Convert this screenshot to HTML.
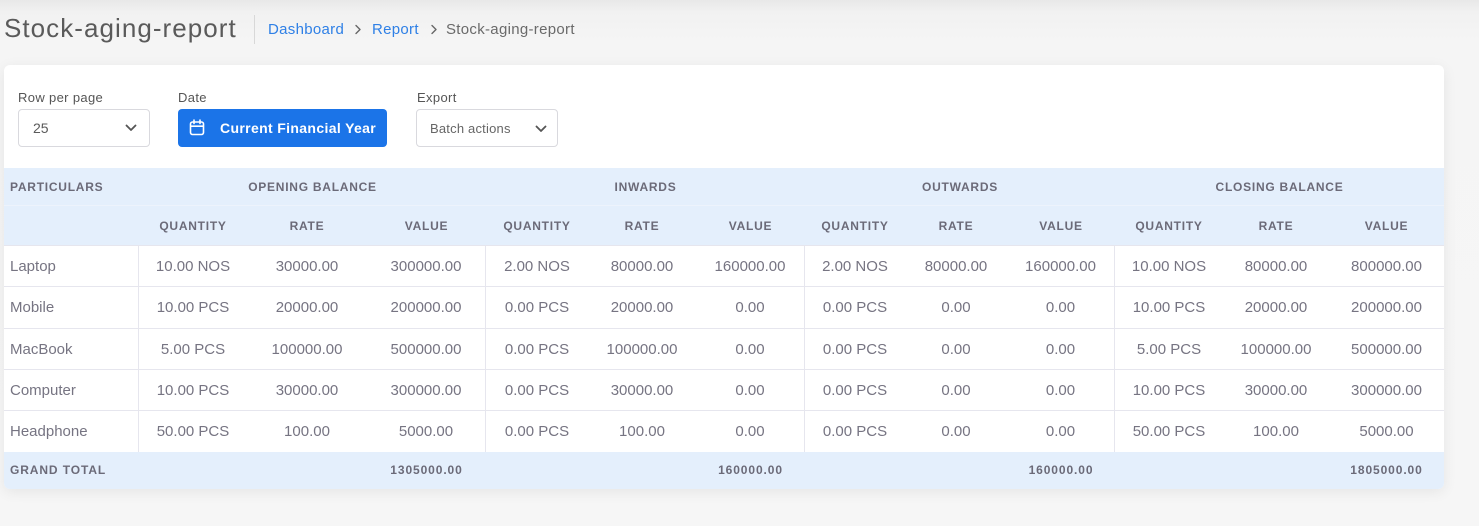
<!DOCTYPE html>
<html>
<head>
<meta charset="utf-8">
<style>
*{box-sizing:border-box;margin:0;padding:0}
html,body{width:1479px;height:526px;overflow:hidden}
body{position:relative;background:linear-gradient(#e8e8e8 0px,#f1f1f1 12px,#f5f5f5 40px,#f6f6f6 100%);font-family:"Liberation Sans",sans-serif;}
.abs{position:absolute;white-space:nowrap}
.title{left:4px;top:15px;font-size:26px;line-height:26px;color:#5a5a5a;letter-spacing:1.05px}
.sep{left:254px;top:15px;width:1px;height:29px;background:#d8d8d8}
.bc{top:22px;font-size:15px;line-height:15px;letter-spacing:0.3px}
.card{left:4px;top:65px;width:1440px;height:424px;background:#fff;border-radius:6px;box-shadow:0 3px 14px rgba(0,0,0,0.07);overflow:hidden}
.lbl{font-size:13px;line-height:13px;color:#555;letter-spacing:0.35px;top:26px}
.sel{top:44px;height:38px;border:1px solid #d9d9de;border-radius:4px;background:#fff}
.btn{top:44px;left:174px;width:209px;height:38px;background:#1b74e8;border-radius:4px}
.row{position:absolute;left:0;width:1440px;display:flex}
.row>div{flex:none;text-align:center;white-space:nowrap}
.hd{background:#e4effc;color:#6b6a78;font-weight:bold;font-size:12px;letter-spacing:0.75px}
.dt{color:#767482;font-size:15px;border-top:1px solid #e6e6ee}
.dt>div.vl{border-right:1px solid #e6e6ee}
.tot{background:#e4effc;color:#6b6a78;font-weight:bold;font-size:12px;letter-spacing:0.9px}
</style>
</head>
<body>
<div class="abs title">Stock-aging-report</div>
<div class="abs sep"></div>
<div class="abs bc" style="left:268px;color:#2f80e6">Dashboard</div>
<svg class="abs" style="left:354px;top:24px" width="8" height="11" viewBox="0 0 8 11"><path d="M2 1.5 L6 5.5 L2 9.5" fill="none" stroke="#666" stroke-width="1.4" stroke-linecap="round" stroke-linejoin="round"/></svg>
<div class="abs bc" style="left:372px;color:#2f80e6">Report</div>
<svg class="abs" style="left:430px;top:24px" width="8" height="11" viewBox="0 0 8 11"><path d="M2 1.5 L6 5.5 L2 9.5" fill="none" stroke="#666" stroke-width="1.4" stroke-linecap="round" stroke-linejoin="round"/></svg>
<div class="abs bc" style="left:446px;color:#6a6a6a">Stock-aging-report</div>

<div class="abs card">
  <div class="abs lbl" style="left:14px">Row per page</div>
  <div class="abs lbl" style="left:174px">Date</div>
  <div class="abs lbl" style="left:413px">Export</div>

  <div class="abs sel" style="left:14px;width:132px">
    <div class="abs" style="left:14px;top:11px;font-size:14px;line-height:14px;color:#5a5a5a">25</div>
    <svg class="abs" style="left:106px;top:14px" width="12" height="8" viewBox="0 0 12 8"><path d="M1.5 1.5 L6 6 L10.5 1.5" fill="none" stroke="#555" stroke-width="1.8" stroke-linecap="round" stroke-linejoin="round"/></svg>
  </div>

  <div class="abs btn">
    <svg class="abs" style="left:11px;top:10px" width="16" height="17" viewBox="0 0 16 17"><rect x="1.5" y="3" width="13" height="12.5" rx="2" fill="none" stroke="#fff" stroke-width="1.6"/><line x1="1.5" y1="7.2" x2="14.5" y2="7.2" stroke="#fff" stroke-width="1.6"/><line x1="5" y1="1" x2="5" y2="4.5" stroke="#fff" stroke-width="1.6" stroke-linecap="round"/><line x1="11" y1="1" x2="11" y2="4.5" stroke="#fff" stroke-width="1.6" stroke-linecap="round"/></svg>
    <div class="abs" style="left:42px;top:12px;font-size:14px;line-height:14px;color:#fff;font-weight:bold;letter-spacing:0.35px">Current Financial Year</div>
  </div>

  <div class="abs sel" style="left:412px;width:142px">
    <div class="abs" style="left:13px;top:12px;font-size:13px;line-height:13px;color:#666;letter-spacing:0.2px">Batch actions</div>
    <svg class="abs" style="left:118px;top:15px" width="12" height="8" viewBox="0 0 12 8"><path d="M1.5 1.5 L6 6 L10.5 1.5" fill="none" stroke="#555" stroke-width="1.8" stroke-linecap="round" stroke-linejoin="round"/></svg>
  </div>

  <!-- header row 1 -->
  <div class="row hd" style="top:103px;height:38px;line-height:38px;border-bottom:1px solid #edf3fc">
    <div style="width:135px;text-align:left;padding-left:6px">PARTICULARS</div>
    <div style="width:347px">OPENING BALANCE</div>
    <div style="width:319px">INWARDS</div>
    <div style="width:310px">OUTWARDS</div>
    <div style="width:329px">CLOSING BALANCE</div>
  </div>
  <!-- header row 2 -->
  <div class="row hd" style="top:141px;height:39px;line-height:40px">
    <div style="width:135px"></div>
    <div style="width:108px">QUANTITY</div><div style="width:120px">RATE</div><div style="width:119px">VALUE</div>
    <div style="width:102px">QUANTITY</div><div style="width:108px">RATE</div><div style="width:109px">VALUE</div>
    <div style="width:100px">QUANTITY</div><div style="width:102px">RATE</div><div style="width:108px">VALUE</div>
    <div style="width:108px">QUANTITY</div><div style="width:106px">RATE</div><div style="width:115px">VALUE</div>
  </div>

  <div class="row dt" style="top:180px;height:41px;line-height:41px">
    <div class="vl" style="width:135px;text-align:left;padding-left:6px">Laptop</div>
    <div style="width:108px">10.00 NOS</div><div style="width:120px">30000.00</div><div class="vl" style="width:119px">300000.00</div>
    <div style="width:102px">2.00 NOS</div><div style="width:108px">80000.00</div><div class="vl" style="width:109px">160000.00</div>
    <div style="width:100px">2.00 NOS</div><div style="width:102px">80000.00</div><div class="vl" style="width:108px">160000.00</div>
    <div style="width:108px">10.00 NOS</div><div style="width:106px">80000.00</div><div style="width:115px">800000.00</div>
  </div>
  <div class="row dt" style="top:221px;height:42px;line-height:41px">
    <div class="vl" style="width:135px;text-align:left;padding-left:6px">Mobile</div>
    <div style="width:108px">10.00 PCS</div><div style="width:120px">20000.00</div><div class="vl" style="width:119px">200000.00</div>
    <div style="width:102px">0.00 PCS</div><div style="width:108px">20000.00</div><div class="vl" style="width:109px">0.00</div>
    <div style="width:100px">0.00 PCS</div><div style="width:102px">0.00</div><div class="vl" style="width:108px">0.00</div>
    <div style="width:108px">10.00 PCS</div><div style="width:106px">20000.00</div><div style="width:115px">200000.00</div>
  </div>
  <div class="row dt" style="top:263px;height:41px;line-height:41px">
    <div class="vl" style="width:135px;text-align:left;padding-left:6px">MacBook</div>
    <div style="width:108px">5.00 PCS</div><div style="width:120px">100000.00</div><div class="vl" style="width:119px">500000.00</div>
    <div style="width:102px">0.00 PCS</div><div style="width:108px">100000.00</div><div class="vl" style="width:109px">0.00</div>
    <div style="width:100px">0.00 PCS</div><div style="width:102px">0.00</div><div class="vl" style="width:108px">0.00</div>
    <div style="width:108px">5.00 PCS</div><div style="width:106px">100000.00</div><div style="width:115px">500000.00</div>
  </div>
  <div class="row dt" style="top:304px;height:41px;line-height:41px">
    <div class="vl" style="width:135px;text-align:left;padding-left:6px">Computer</div>
    <div style="width:108px">10.00 PCS</div><div style="width:120px">30000.00</div><div class="vl" style="width:119px">300000.00</div>
    <div style="width:102px">0.00 PCS</div><div style="width:108px">30000.00</div><div class="vl" style="width:109px">0.00</div>
    <div style="width:100px">0.00 PCS</div><div style="width:102px">0.00</div><div class="vl" style="width:108px">0.00</div>
    <div style="width:108px">10.00 PCS</div><div style="width:106px">30000.00</div><div style="width:115px">300000.00</div>
  </div>
  <div class="row dt" style="top:345px;height:42px;line-height:41px">
    <div class="vl" style="width:135px;text-align:left;padding-left:6px">Headphone</div>
    <div style="width:108px">50.00 PCS</div><div style="width:120px">100.00</div><div class="vl" style="width:119px">5000.00</div>
    <div style="width:102px">0.00 PCS</div><div style="width:108px">100.00</div><div class="vl" style="width:109px">0.00</div>
    <div style="width:100px">0.00 PCS</div><div style="width:102px">0.00</div><div class="vl" style="width:108px">0.00</div>
    <div style="width:108px">50.00 PCS</div><div style="width:106px">100.00</div><div style="width:115px">5000.00</div>
  </div>

  <div class="row tot" style="top:387px;height:37px;line-height:37px">
    <div style="width:135px;text-align:left;padding-left:6px">GRAND TOTAL</div>
    <div style="width:108px"></div><div style="width:120px"></div><div style="width:119px">1305000.00</div>
    <div style="width:102px"></div><div style="width:108px"></div><div style="width:109px">160000.00</div>
    <div style="width:100px"></div><div style="width:102px"></div><div style="width:108px">160000.00</div>
    <div style="width:108px"></div><div style="width:106px"></div><div style="width:115px">1805000.00</div>
  </div>
</div>
</body>
</html>
